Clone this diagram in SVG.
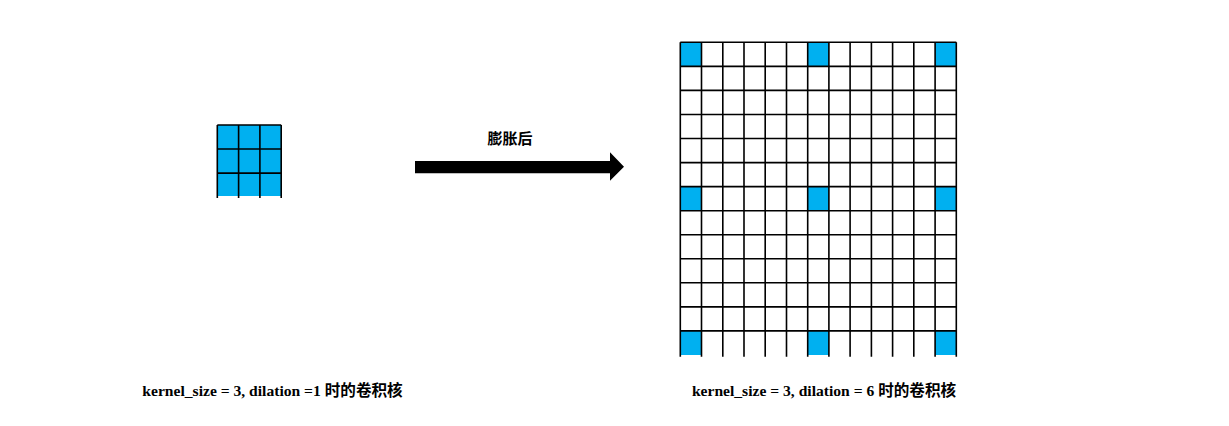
<svg xmlns="http://www.w3.org/2000/svg" width="1229" height="426" viewBox="0 0 1229 426">
<style>
.cell{fill:#00B0F0;}
.grid{fill:none;stroke:#000;stroke-width:1.6;}
.lbl{font-family:"Liberation Serif","Noto Sans CJK SC",serif;font-weight:bold;font-size:15.6px;fill:#000;text-anchor:middle;}
.cap{font-family:"Noto Sans CJK SC","Liberation Sans",sans-serif;font-weight:bold;font-size:15px;fill:#000;text-anchor:middle;}
</style>
<rect width="1229" height="426" fill="#fff"/>
<g id="kernel-small">
<rect class="cell" x="217.3" y="125" width="63.9" height="71"/>
<path class="grid" d="M217.3 125H281.2M217.3 149H281.2M217.3 173.1H281.2M217.3 125V198M238.6 125V198M259.9 125V198M281.2 125V198"/>
</g>
<g id="kernel-dilated">
<rect class="cell" x="680.3" y="42.3" width="21.2" height="24.1"/>
<rect class="cell" x="807.7" y="42.3" width="21.2" height="24.1"/>
<rect class="cell" x="935.1" y="42.3" width="21.2" height="24.1"/>
<rect class="cell" x="680.3" y="186.6" width="21.2" height="24.1"/>
<rect class="cell" x="807.7" y="186.6" width="21.2" height="24.1"/>
<rect class="cell" x="935.1" y="186.6" width="21.2" height="24.1"/>
<rect class="cell" x="680.3" y="330.9" width="21.2" height="24.1"/>
<rect class="cell" x="807.7" y="330.9" width="21.2" height="24.1"/>
<rect class="cell" x="935.1" y="330.9" width="21.2" height="24.1"/>
<path class="grid" d="M680.3 42.3H956.3M680.3 66.4H956.3M680.3 90.4H956.3M680.3 114.5H956.3M680.3 138.5H956.3M680.3 162.6H956.3M680.3 186.6H956.3M680.3 210.7H956.3M680.3 234.7H956.3M680.3 258.8H956.3M680.3 282.8H956.3M680.3 306.9H956.3M680.3 330.9H956.3
M680.3 42.3V356.8M701.5 42.3V356.8M722.8 42.3V356.8M744 42.3V356.8M765.2 42.3V356.8M786.5 42.3V356.8M807.7 42.3V356.8M828.9 42.3V356.8M850.1 42.3V356.8M871.4 42.3V356.8M892.6 42.3V356.8M913.8 42.3V356.8M935.1 42.3V356.8M956.3 42.3V356.8"/>
</g>
<g id="connectors">
<path id="arrow" d="M415 161H610V152.3L624 166.8L610 180.7V173.3H415Z" fill="#000"/>
</g>
<g id="arrow-label">
<text class="cap" x="510" y="144">膨胀后</text>
</g>
<g id="label-small">
<text class="lbl" x="272.5" y="396">kernel_size = 3, dilation =1 时的卷积核</text>
</g>
<g id="label-dilated">
<text class="lbl" x="824" y="396">kernel_size = 3, dilation = 6 时的卷积核</text>
</g>
</svg>
